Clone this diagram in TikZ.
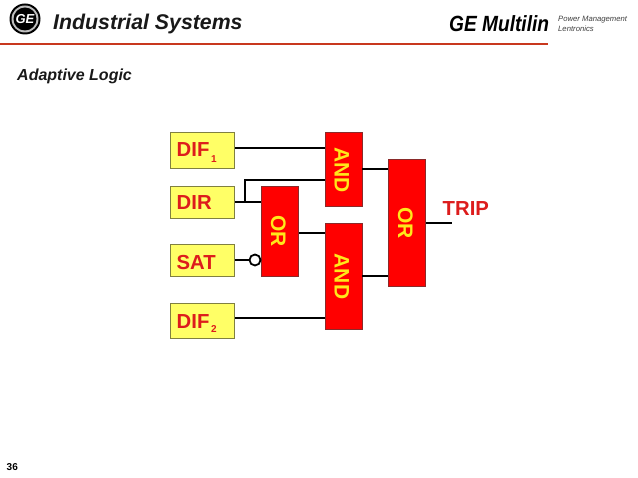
\documentclass[tikz,border=0pt]{standalone}
\usepackage{fontspec}
\setmainfont{Liberation Sans}
\newfontfamily\condfont[FakeStretch=0.87]{Liberation Sans}
\definecolor{boxfill}{HTML}{FFFF66}
\definecolor{boxline}{HTML}{808040}
\definecolor{gatefill}{HTML}{FF0000}
\definecolor{gateline}{HTML}{8A2A2A}
\definecolor{labelred}{HTML}{DD1C1C}
\definecolor{gatetext}{HTML}{FFE81A}
\definecolor{rulered}{HTML}{C8381E}
\tikzset{
  x=1pt,y=-1pt,
  inbox/.style={draw=boxline,fill=boxfill,line width=1pt,anchor=north west,inner sep=0pt},
  gate/.style={draw=gateline,fill=gatefill,line width=0.8pt,anchor=north west,inner sep=0pt},
  boxtext/.style={font=\fontsize{20.3}{22}\selectfont\bfseries,text=labelred,anchor=base west,inner sep=0pt},
  subtext/.style={font=\fontsize{10}{11}\selectfont\bfseries,text=labelred,anchor=base west,inner sep=0pt},
  gatetext/.style={font=\fontsize{21}{22}\selectfont\bfseries,text=gatetext,rotate=-90,inner sep=0pt},
  wire/.style={draw=black,line width=1.9pt},
  head/.style={inner sep=0pt,anchor=base west}
}
\newcommand{\inbx}[4]{\node[inbox,minimum width=#3 pt,minimum height=#4 pt] (#1) at (#2) {};}
\begin{document}
\begin{tikzpicture}
\useasboundingbox (0,0) rectangle (638,478);
\fill[white] (0,0) rectangle (638,478);

% header
\node[circle,fill=black,minimum size=31pt,inner sep=0pt] (logo) at (25,19) {};
\node[circle,fill=black!25,minimum size=27pt,inner sep=0pt] (logoring) at (25,19) {};
\node[circle,fill=black,minimum size=23pt,inner sep=0pt] (logoin) at (25,19) {};
\node[inner sep=0pt,text=white,font=\fontsize{13}{13}\selectfont\bfseries\itshape] (logotext) at (25,19) {GE};
\node[head,font=\fontsize{21.3}{23}\selectfont\bfseries\itshape,text=black!90] (title) at (53,29.5) {Industrial Systems};
\coordinate (ruleL) at (0,44);
\coordinate (ruleR) at (548,44);
\draw[rulered,line width=1.2pt] (ruleL) -- (ruleR);
\node[head,font=\fontsize{22}{24}\condfont\bfseries\itshape,text=black] (brand) at (449,32) {GE Multilin};
\node[head,font=\fontsize{7.7}{9}\selectfont\itshape,text=black!75] (pm) at (558,21.5) {Power Management};
\node[head,font=\fontsize{7.7}{9}\selectfont\itshape,text=black!75] (len) at (558,31.5) {Lentronics};
\node[head,font=\fontsize{16}{18}\selectfont\bfseries\itshape,text=black!90] (sub) at (17,80.5) {Adaptive Logic};
\node[head,font=\fontsize{10}{12}\selectfont\bfseries,text=black] (page) at (6.5,471) {36};

% input boxes
\inbx{dif1}{170,132}{64}{36}
\inbx{dir}{170,186}{64}{32}
\inbx{sat}{170,244}{64}{32}
\inbx{dif2}{170,303}{64}{35}
\node[boxtext] (dif1t) at (176.5,157) {DIF};
\node[subtext] (dif1s) at (211,162.3) {1};
\node[boxtext] (dirt) at (176.5,210) {DIR};
\node[boxtext] (satt) at (176.5,269.3) {SAT};
\node[boxtext] (dif2t) at (176.5,328.3) {DIF};
\node[subtext] (dif2s) at (211,332.7) {2};

% gates
\node[gate,minimum width=37pt,minimum height=90pt] (or1) at (261,186) {};
\node[gate,minimum width=37pt,minimum height=74pt] (and1) at (324.5,132.5) {};
\node[gate,minimum width=37pt,minimum height=106.5pt] (and2) at (324.5,222.8) {};
\node[gate,minimum width=37pt,minimum height=127.5pt] (or2) at (388,159) {};
\node[gatetext] (or1t) at ([xshift=-1.5pt]or1.center) {OR};
\node[gatetext] (and1t) at ([xshift=-1.5pt]and1.center) {AND};
\node[gatetext] (and2t) at ([xshift=-1.5pt]and2.center) {AND};
\node[gatetext] (or2t) at ([xshift=-1.5pt]or2.center) {OR};

% wires
\draw[wire] (dif1.east |- 0,148.3) -- (and1.west |- 0,148.3);
\draw[wire] (dir.east |- 0,201.7) -- (or1.west |- 0,201.7);
\coordinate (branch) at (244.7,201.7);
\draw[wire] (branch) -- (244.7,180) -- (and1.west |- 0,180);
\node[circle,draw=black,fill=white,line width=1.8pt,minimum size=11pt,inner sep=0pt] (neg) at (255,260) {};
\draw[wire] (sat.east |- neg) -- (neg.west);
\draw[wire] (dif2.east |- 0,318.3) -- (and2.west |- 0,318.3);
\draw[wire] (or1.east |- 0,233.3) -- (and2.west |- 0,233.3);
\draw[wire] (and1.east |- 0,169.3) -- (or2.west |- 0,169.3);
\draw[wire] (and2.east |- 0,276) -- (or2.west |- 0,276);
\coordinate (tripend) at (452,222.7);
\draw[wire] (or2.east |- tripend) -- (tripend);
\node[boxtext] (trip) at (442.5,215.5) {TRIP};
\end{tikzpicture}
\end{document}
